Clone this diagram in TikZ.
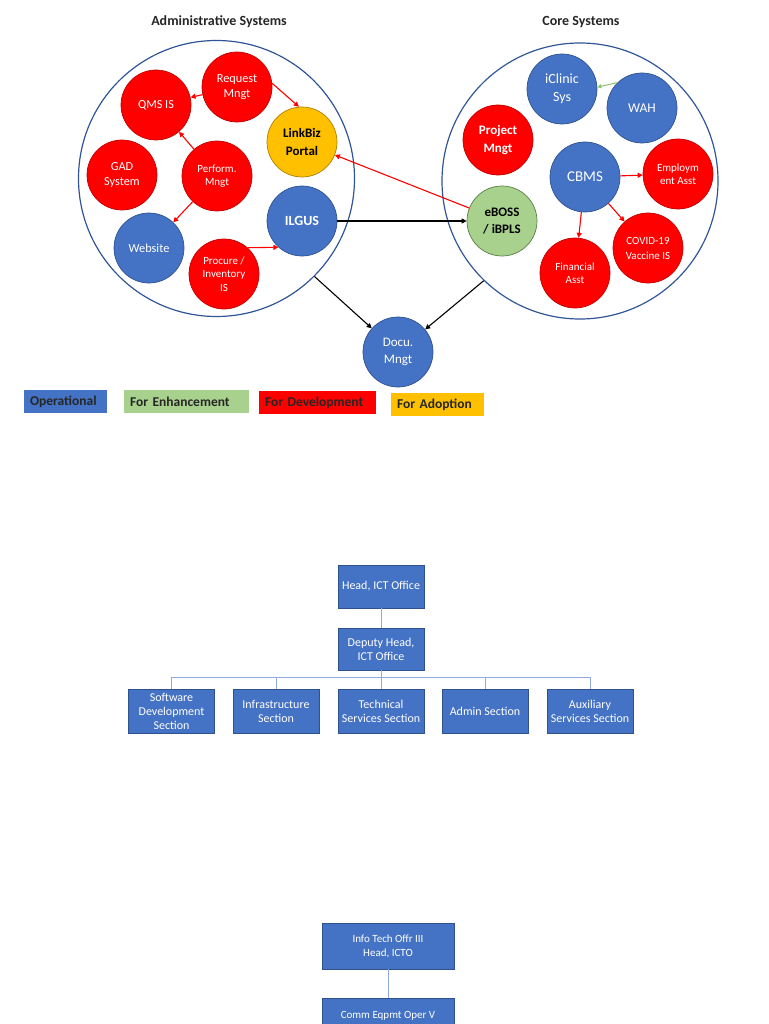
\documentclass[tikz,border=0pt]{standalone}
\usepackage{fontspec}
\setmainfont{Carlito}
\usetikzlibrary{arrows.meta}
\definecolor{oblue}{HTML}{4472C4}
\definecolor{oblueb}{HTML}{2F528F}
\definecolor{ored}{HTML}{FF0000}
\definecolor{oredb}{HTML}{C00000}
\definecolor{oyel}{HTML}{FFC000}
\definecolor{oyelb}{HTML}{B08000}
\definecolor{ogrn}{HTML}{A9D18E}
\definecolor{ogrnb}{HTML}{5A7F44}
\definecolor{ring}{HTML}{2F5597}
\definecolor{orgline}{HTML}{8FAADC}
\definecolor{arrgrn}{HTML}{8CC26A}
\begin{document}
\begin{tikzpicture}[x=1pt,y=-1pt,
  sys/.style={circle, minimum size=70pt, inner sep=0pt, align=center, line width=0.7pt},
  dev/.style={sys, fill=ored, draw=oredb, text=white},
  ope/.style={sys, fill=oblue, draw=oblueb, text=white},
  adp/.style={sys, fill=oyel, draw=oyelb, text=black},
  enh/.style={sys, fill=ogrn, draw=ogrnb, text=black},
  fA/.style={font=\fontsize{11}{13.3}\selectfont},
  fB/.style={font=\fontsize{12.3}{15.5}\selectfont},
  fC/.style={font=\fontsize{13}{17.5}\selectfont\bfseries},
  fD/.style={font=\fontsize{14}{17.5}\selectfont},
  ringc/.style={circle, draw=ring, line width=1.2pt, minimum size=276pt, inner sep=0pt},
  title/.style={font=\fontsize{14}{16}\selectfont\bfseries, text=black!85},
  rarr/.style={draw=ored, line width=1.1pt, -{Triangle[length=5pt,width=5pt]}},
  karr/.style={draw=black, line width=1.1pt, -{Triangle[length=5pt,width=5pt]}},
  garr/.style={draw=arrgrn, line width=1pt, -{Triangle[length=4pt,width=4pt]}},
  leg/.style={minimum height=23pt, inner ysep=0pt, inner xsep=6pt, align=left, font=\fontsize{13.5}{15}\selectfont\bfseries, text=black!85},
  orgbox/.style={fill=oblue, draw=oblueb, line width=0.5pt, text=white, align=center, inner sep=0pt, minimum width=86pt, font=\fontsize{12}{14}\selectfont},
  orgl/.style={draw=orgline, line width=1pt}
]
\useasboundingbox (0,0) rectangle (768,1024);
\clip (0,0) rectangle (768,1024);

% titles
\node[title] (tA) at (219,22) {Administrative Systems};
\node[title] (tC) at (581,22) {Core Systems};

% big rings
\node[ringc] (L) at (216.5,178.5) {};
\node[ringc] (R) at (580,181) {};

% administrative systems
\node[dev,fB] (req) at (237,87) {Request\\Mngt};
\node[dev,fB] (qms) at (156,105) {QMS IS};
\node[adp,fC] (link) at (302,142) {LinkBiz\\Portal};
\node[dev,fB] (gad) at (122,175) {GAD\\System};
\node[dev,fA] (perf) at (217,176) {Perform.\\Mngt};
\node[ope,font=\fontsize{14}{17}\selectfont\bfseries] (ilgus) at (302,221) {ILGUS};
\node[ope,fB] (web) at (149,248) {Website};
\node[dev,fA] (proc) at (224,274) {Procure /\\Inventory\\IS};

% core systems
\node[ope,fD] (icl) at (562,89) {iClinic\\Sys};
\node[ope,font=\fontsize{13.5}{16}\selectfont] (wah) at (642,108) {WAH};
\node[dev,fC] (proj) at (498,140) {Project\\Mngt};
\node[ope,font=\fontsize{15}{18}\selectfont] (cbms) at (585,177) {CBMS};
\node[dev,fA] (emp) at (678,174) {Employm\\ent Asst};
\node[enh,fC] (eboss) at (502,221) {eBOSS\\/ iBPLS};
\node[dev,font=\fontsize{11}{15}\selectfont] (covid) at (648,248) {COVID-19\\Vaccine IS};
\node[dev,fA] (fin) at (575,273) {Financial\\Asst};

\node[ope,font=\fontsize{13}{17.5}\selectfont] (docu) at (398,352) {Docu.\\Mngt};

% arrows
\draw[rarr] (req) -- (qms);
\draw[rarr] (req.6) -- (link.95);
\draw[rarr] (perf) -- (qms);
\draw[rarr] (perf) -- (web);
\draw[rarr] (proc.48) -- (ilgus.228);
\draw[rarr] (eboss) -- (link);
\draw[karr] (ilgus) -- (eboss);
\draw[karr] (L.-45) -- (docu);
\draw[karr] (R.-134) -- (docu);
\draw[garr] (wah.134) -- (icl.3);
\draw[rarr] (cbms) -- (emp);
\draw[rarr] (cbms) -- (covid);
\draw[rarr] (cbms) -- (fin);

% legend
\node[leg, fill=oblue, text width=71pt] (lg1) at (65.5,401.5) {Operational};
\node[leg, fill=ogrn, text width=113pt] (lg2) at (186.5,401.5) {For Enhancement};
\node[leg, fill=ored, text width=105pt] (lg3) at (317.5,402.5) {For Development};
\node[leg, fill=oyel, text width=81pt] (lg4) at (437.5,404.5) {For Adoption};

% org chart
\node[orgbox, minimum height=43pt] (head) at (381,586.5) {Head, ICT Office};
\node[orgbox, minimum height=42pt] (dep) at (381,649) {Deputy Head,\\ICT Office};
\coordinate (bus) at (381,677);
\node[orgbox, minimum height=44pt] (sw) at (171.5,711) {Software\\Development\\Section};
\node[orgbox, minimum height=44pt] (inf) at (276,711) {Infrastructure\\Section};
\node[orgbox, minimum height=44pt] (tech) at (381,711) {Technical\\Services Section};
\node[orgbox, minimum height=44pt] (adm) at (485,711) {Admin Section};
\node[orgbox, minimum height=44pt] (aux) at (590,711) {Auxiliary\\Services Section};
\draw[orgl] (head.south) -- (dep.north);
\draw[orgl] (dep.south) -- (bus);
\draw[orgl] (bus) -| (sw.north);
\draw[orgl] (bus) -| (inf.north);
\draw[orgl] (bus) -- (tech.north);
\draw[orgl] (bus) -| (adm.north);
\draw[orgl] (bus) -| (aux.north);

% bottom chart
\node[orgbox, minimum width=132pt, minimum height=46pt, font=\fontsize{11}{14}\selectfont] (itof) at (388,946) {Info Tech Offr III\\Head, ICTO};
\node[orgbox, minimum width=132pt, minimum height=36pt, font=\fontsize{11}{14}\selectfont] (comm) at (388,1016) {Comm Eqpmt Oper V};
\draw[orgl] (itof.south) -- (comm.north);
\end{tikzpicture}
\end{document}
